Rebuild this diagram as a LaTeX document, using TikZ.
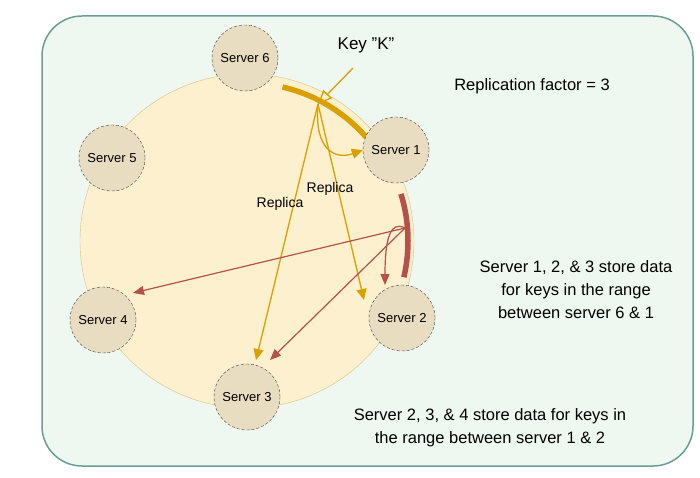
\documentclass[tikz,border=0pt]{standalone}
\usepackage{fontspec}
\setmainfont{Liberation Sans}
\usetikzlibrary{arrows.meta,calc}
\definecolor{bggreen}{HTML}{EEF8F1}
\definecolor{frameteal}{HTML}{6A9E94}
\definecolor{ringfill}{HTML}{FDF0CF}
\definecolor{ringline}{HTML}{D9C17A}
\definecolor{srvfill}{HTML}{E9DDC1}
\definecolor{keyorange}{HTML}{D9A000}
\definecolor{repred}{HTML}{B5504A}
\tikzset{
  server/.style={circle,draw=black!75,dash pattern=on 3pt off 2pt,fill=srvfill,minimum size=66pt,inner sep=0pt,font=\fontsize{13}{15}\selectfont},
  note/.style={align=center,font=\fontsize{16.5}{23}\selectfont},
  orangearrow/.style={keyorange,line width=1.3pt,-{Triangle[length=11pt,width=10pt]}},
  redarrow/.style={repred,line width=1.2pt,-{Triangle[length=11pt,width=9pt]}}
}
\begin{document}
\begin{tikzpicture}[x=1pt,y=-1pt]
        \useasboundingbox (0,0) rectangle (700,478);
        % frame and ring
        \draw[frameteal,fill=bggreen,line width=1.5pt,rounded corners=40pt] (42,16) rectangle (693,466);
        \coordinate (ctr) at (247,241);
        \draw[ringline,fill=ringfill] (ctr) circle (167);
        % key range arcs
        \draw[keyorange,line width=5.5pt] ($(ctr)+(-77:158)$) arc (-77:-41:158);
        \draw[repred,line width=5.5pt] ($(ctr)+(-17:161)$) arc (-17:13:161);
        \coordinate (key) at (318,104);
        \coordinate (keytail) at (353,68);
        \coordinate (red) at (405,228);
        % servers
        \node[server] (s6) at (245,58) {Server 6};
        \node[server] (s1) at (396,150) {Server 1};
        \node[server] (s5) at (112,158) {Server 5};
        \node[server] (s4) at (103,320) {Server 4};
        \node[server] (s2) at (402,318) {Server 2};
        \node[server] (s3) at (247,397) {Server 3};
        % key arrows
        \draw[keyorange,line width=1.3pt,-{Triangle[open,length=14pt,width=12pt]}] (keytail) -- (key);
        \draw[orangearrow] (key) .. controls (314,150) and (335,160) .. (s1.west);
        \draw[orangearrow] (key) -- (364,300);
        \draw[orangearrow] (key) -- (256,360);
        \node[font=\fontsize{14}{16}\selectfont] at (330,189) {Replica};
        \node[font=\fontsize{14}{16}\selectfont] at (280,204) {Replica};
        % replica arrows
        \draw[redarrow] (red) -- (133,293);
        \draw[redarrow] (red) -- (270,360);
        \draw[redarrow] (red) .. controls (390,220) and (385,240) .. (385,285);
        % notes
        \node[font=\fontsize{17}{20}\selectfont] at (366,45) {Key "K"};
        \node[note] at (532,86) {Replication factor = 3};
        \node[note] at (576,290) {Server 1, 2, \& 3 store data\\for keys in the range\\between server 6 \& 1};
        \node[note] at (490,428) {Server 2, 3, \& 4 store data for keys in\\the range between server 1 \& 2};
\end{tikzpicture}
\end{document}
